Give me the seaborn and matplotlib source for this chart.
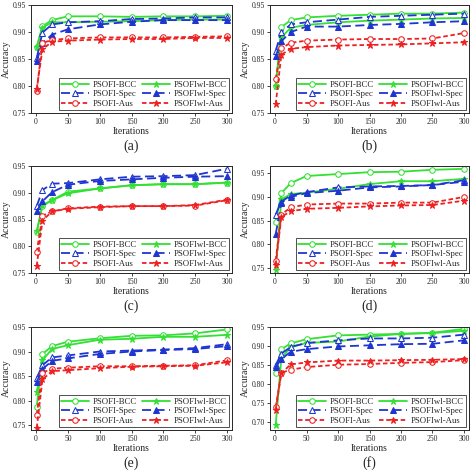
import matplotlib
matplotlib.use("Agg")
import matplotlib.pyplot as plt
import seaborn as sns
import pandas as pd

sns.set_style("ticks")
plt.rcParams['font.family'] = ['Liberation Serif', 'DejaVu Serif']

iterations = [1, 10, 25, 50, 100, 150, 200, 250, 300]
series_names = ["PSOFI-BCC", "PSOFIwl-BCC", "PSOFI-Spec", "PSOFIwl-Spec", "PSOFI-Aus", "PSOFIwl-Aus"]
panel_labels = ["(a)", "(b)", "(c)", "(d)", "(e)", "(f)"]

a_vals = [
    [.872,.911,.922,.929,.929,.928,.929,.929,.930],
    [.873,.908,.918,.918,.919,.920,.922,.923,.923],
    [.852,.899,.914,.918,.920,.924,.925,.927,.927],
    [.846,.880,.895,.905,.914,.919,.922,.922,.922],
    [.791,.880,.885,.888,.890,.890,.890,.891,.892],
    [.795,.868,.882,.884,.886,.887,.887,.889,.889]]
b_vals = [
    [.800,.909,.922,.927,.930,.932,.934,.934,.936],
    [.800,.890,.908,.913,.918,.921,.923,.925,.926],
    [.865,.900,.914,.918,.923,.928,.930,.932,.934],
    [.855,.883,.900,.910,.910,.913,.915,.918,.920],
    [.813,.870,.880,.884,.886,.887,.887,.888,.898],
    [.766,.858,.869,.872,.875,.876,.877,.879,.881]]
c_vals = [
    [.826,.875,.886,.902,.908,.914,.916,.916,.919],
    [.828,.877,.886,.899,.908,.914,.916,.916,.919],
    [.875,.905,.917,.918,.925,.930,.931,.933,.945],
    [.865,.884,.901,.915,.922,.925,.928,.930,.931],
    [.789,.857,.865,.871,.874,.875,.875,.876,.886],
    [.763,.848,.865,.870,.873,.875,.875,.877,.887]]
d_vals = [
    [.848,.908,.929,.944,.948,.952,.953,.957,.959],
    [.746,.895,.906,.909,.917,.927,.933,.933,.938],
    [.863,.890,.903,.910,.920,.922,.923,.925,.935],
    [.821,.888,.900,.908,.913,.920,.922,.925,.932],
    [.766,.863,.878,.884,.886,.886,.888,.888,.900],
    [.757,.858,.870,.875,.877,.880,.882,.883,.892]]
e_vals = [
    [.787,.895,.911,.920,.927,.932,.933,.937,.945],
    [.818,.882,.905,.913,.924,.926,.930,.930,.934],
    [.846,.872,.888,.892,.900,.902,.904,.907,.915],
    [.838,.864,.881,.886,.895,.900,.903,.905,.911],
    [.771,.857,.865,.867,.870,.870,.871,.872,.882],
    [.744,.843,.860,.862,.866,.869,.870,.871,.878]]
f_vals = [
    [.830,.892,.907,.918,.928,.930,.932,.935,.945],
    [.692,.868,.897,.908,.912,.925,.932,.934,.940],
    [.850,.880,.898,.908,.915,.920,.920,.922,.930],
    [.845,.866,.885,.892,.899,.902,.905,.906,.915],
    [.740,.830,.838,.845,.851,.853,.856,.858,.863],
    [.733,.829,.852,.857,.862,.862,.863,.864,.866]]
panels = [a_vals, b_vals, c_vals, d_vals, e_vals, f_vals]
ylims = [(0.75, 0.95), (0.75, 0.95), (0.75, 0.95), (0.74, 0.965), (0.74, 0.95), (0.68, 0.95)]
yticks = [[.75,.80,.85,.90,.95]]*5 + [[.70,.75,.80,.85,.90,.95]]

green, blue, red = "#33e033", "#1f35d0", "#ee2020"
styles = {
    "PSOFI-BCC": dict(color=green, ls="-", marker="o", mfc="white"),
    "PSOFIwl-BCC": dict(color=green, ls="-", marker="*", mfc=green),
    "PSOFI-Spec": dict(color=blue, ls=(0, (5, 2.5)), marker="^", mfc="white"),
    "PSOFIwl-Spec": dict(color=blue, ls=(0, (5, 2.5)), marker="^", mfc=blue),
    "PSOFI-Aus": dict(color=red, ls=(0, (2.5, 1.5)), marker="o", mfc="white"),
    "PSOFIwl-Aus": dict(color=red, ls=(0, (2.5, 1.5)), marker="*", mfc=red),
}

W, H = 474, 476
fig = plt.figure(figsize=(W/100, H/100), dpi=100)
rows = [(5, 113), (166, 273), (327, 430)]
cols = [(31, 232), (270, 469)]
for i, vals in enumerate(panels):
    r, c = divmod(i, 2)
    (t, b), (l, rr) = rows[r], cols[c]
    ax = fig.add_axes([l/W, 1-b/H, (rr-l)/W, (b-t)/H])
    for name, v in zip(series_names, vals):
        df = pd.DataFrame({"Iterations": iterations, "Accuracy": v})
        st = styles[name]
        sns.lineplot(data=df, x="Iterations", y="Accuracy", ax=ax, color=st["color"],
                     linestyle=st["ls"], marker=st["marker"], markerfacecolor=st["mfc"],
                     markeredgecolor=st["color"], markersize=4 if st["marker"] != "*" else 5,
                     linewidth=1.3, label=name)
    ax.set_ylim(*ylims[i])
    ax.set_xlim(-8, 308)
    ax.set_yticks(yticks[i])
    ax.set_yticklabels([f"{t:.2f}" for t in yticks[i]])
    ax.set_xticks([0, 50, 100, 150, 200, 250, 300])
    ax.tick_params(labelsize=5.5, length=2, width=0.6, pad=1.5)
    ax.set_xlabel("Iterations", fontsize=7, labelpad=1)
    ax.set_ylabel("Accuracy", fontsize=7, labelpad=1.5)
    for s in ax.spines.values():
        s.set_linewidth(0.7)
    h, lab = ax.get_legend_handles_labels()
    order = [0, 2, 4, 1, 3, 5]
    ax.legend([h[k] for k in order], [lab[k] for k in order], ncol=2, loc="lower right",
              fontsize=6.3, frameon=True, fancybox=False, edgecolor="black", handlelength=3.2,
              columnspacing=0.6, handletextpad=0.4, labelspacing=0.15, borderpad=0.3,
              borderaxespad=0.3).get_frame().set_linewidth(0.6)
    fig.text((l+rr)/2/W, 1-(b+33)/H, panel_labels[i], ha="center", va="center", fontsize=10)

fig.savefig("out.png", dpi=100)
